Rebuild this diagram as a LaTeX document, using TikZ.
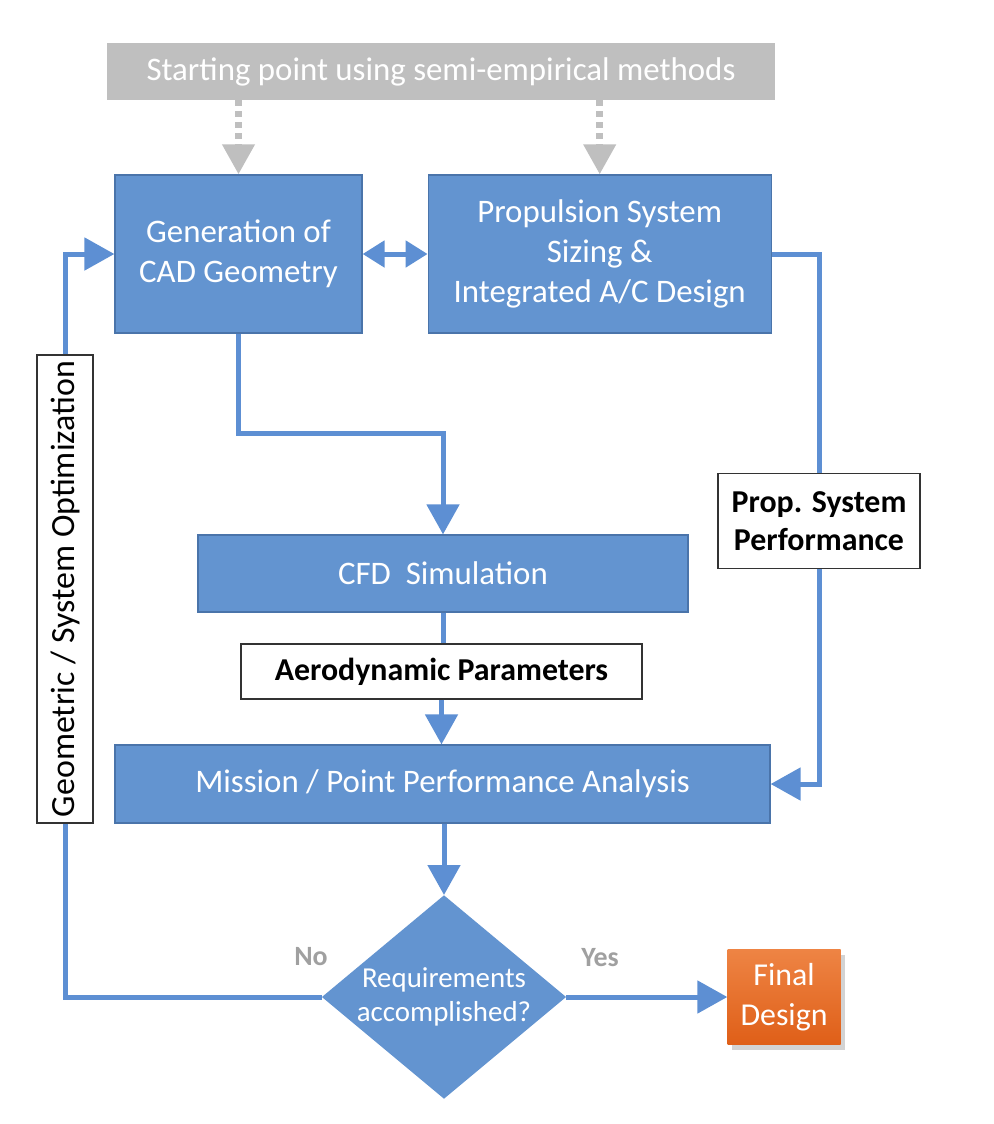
\documentclass[tikz,border=0pt]{standalone}
\usepackage{fontspec}
\setmainfont{Carlito}
\usepackage{tikz}
\usetikzlibrary{arrows.meta,positioning,shapes.geometric,shadows}
\definecolor{boxblue}{HTML}{6394D0}
\definecolor{boxedge}{HTML}{4A74AA}
\definecolor{linkblue}{HTML}{5D8FD3}
\definecolor{startgray}{HTML}{BFBFBF}
\definecolor{answergray}{HTML}{A0A0A0}
\definecolor{finaltop}{HTML}{EE8444}
\definecolor{finalbottom}{HTML}{DF5F18}
\tikzset{
    stepbox/.style={draw=boxedge, line width=1.2bp, fill=boxblue, text=white, align=center, inner sep=0pt, font=\fontsize{33}{40}\selectfont},
    startbox/.style={fill=startgray, text=white, inner sep=0pt, font=\fontsize{33}{38}\selectfont},
    infobox/.style={draw=black!80, line width=1.2bp, fill=white, align=center, inner sep=0pt, font=\bfseries\fontsize{32}{38}\selectfont},
    decisionnode/.style={diamond, fill=boxblue, text=white, align=center, inner sep=0pt, shape aspect=1.2, font=\fontsize{29}{34}\selectfont},
    finalnode/.style={top color=finaltop, bottom color=finalbottom, draw=none, text=white, align=center, inner sep=0pt, drop shadow={shadow xshift=4bp, shadow yshift=-5bp, opacity=0.35}, font=\fontsize{32}{40}\selectfont},
    answerlabel/.style={text=answergray, font=\bfseries\fontsize{28}{34}\selectfont},
    flowline/.style={draw=linkblue, line width=5bp},
    flowarrow/.style={flowline, -{Triangle[length=30bp, width=32bp]}},
    botharrow/.style={flowline, {Triangle[length=22bp, width=26bp]}-{Triangle[length=22bp, width=26bp]}},
    startarrow/.style={draw=startgray, line width=7bp, dash pattern=on 6bp off 5bp, -{Triangle[length=30bp, width=31bp]}}
}

\begin{document}
\begin{tikzpicture}[x=1bp, y=-1bp]
    \useasboundingbox (0,0) rectangle (994,1124);
    \node[startbox, minimum width=668bp, minimum height=57bp] (start) at (441,71.5) {Starting point using semi-empirical methods};
    \node[stepbox, minimum width=247bp, minimum height=158bp] (cad) at (238.5,254) {Generation of\\CAD Geometry};
    \node[stepbox, minimum width=343bp, minimum height=158bp, right=65bp of cad] (prop) {Propulsion System\\Sizing \&\\Integrated A/C Design};
    \node[stepbox, minimum width=490bp, minimum height=77bp] (cfd) at (443,573.5) {CFD\ \ Simulation};
    \node[infobox, minimum width=202bp, minimum height=95bp] (perf) at (819,521) {Prop. System\\Performance};
    \node[infobox, minimum width=401bp, minimum height=55bp] (aero) at (441.5,671.5) {Aerodynamic Parameters};
    \node[stepbox, minimum width=655bp, minimum height=78bp] (mission) at (442.5,784) {Mission / Point Performance Analysis};
    \node[infobox, font=\fontsize{34}{40}\selectfont, rotate=90, minimum width=468bp, minimum height=56bp] (geo) at (65,589) {Geometric / System Optimization};
    \node[decisionnode] (req) at (444,997) {Requirements\\accomplished?};
    \node[finalnode, minimum width=113bp, minimum height=95bp, right=161bp of req] (final) {Final\\Design};
    \node[answerlabel] (no) at (311,957) {No};
    \node[answerlabel] (yes) at (600,958) {Yes};

    \draw[startarrow] (start.south -| cad.north) -- (cad.north);
    \draw[startarrow] (start.south -| prop.north) -- (prop.north);
    \draw[botharrow] (cad.east) -- (prop.west);
    \draw[flowarrow] (cad.south) -- ++(0,100) -| (cfd.north);
    \draw[flowline] (prop.east) -| (perf.north);
    \draw[flowarrow] (perf.south) |- (mission.east);
    \draw[flowline] (cfd.south) -- (cfd.south |- aero.north);
    \draw[flowarrow] (aero.south) -- (aero.south |- mission.north);
    \draw[flowarrow] (mission.south -| req.north) -- (req.north);
    \draw[flowline] (req.west) -- (req.west -| geo.west) -- (geo.west);
    \draw[flowarrow] (geo.east) |- (cad.west);
    \draw[flowarrow] (req.east) -- (final.west);
\end{tikzpicture}
\end{document}
